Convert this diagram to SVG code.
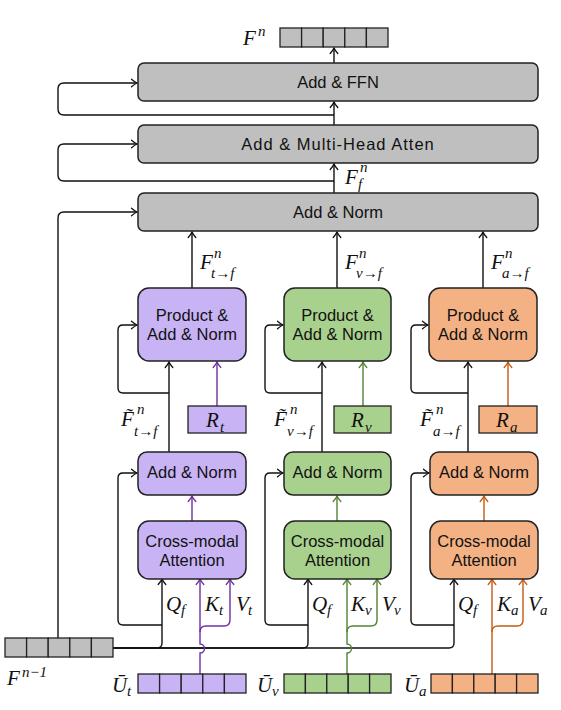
<svg xmlns="http://www.w3.org/2000/svg" width="561" height="710" viewBox="0 0 561 710">
<style>
.box{stroke:#222;stroke-width:1.5}
.gray{fill:#bfbfbf}
.pur{fill:#c8b4f5}
.grn{fill:#a9d18e}
.org{fill:#f4b183}
.t{font-family:'Liberation Sans',Arial,sans-serif;font-size:16.5px;fill:#111;text-anchor:middle}
.m{font-family:'Liberation Serif','Times New Roman',serif;font-style:italic;font-size:21px;fill:#111}
.s{font-size:15px}
.ln{fill:none;stroke:#111;stroke-width:1.4}
.lp{fill:none;stroke:#7030a0;stroke-width:1.4}
.lg{fill:none;stroke:#548235;stroke-width:1.4}
.lo{fill:none;stroke:#c55a11;stroke-width:1.4}
.cell{stroke:#222;stroke-width:1.3}
</style>
<defs>
<marker id="ak" viewBox="-7 -5 9 10" refX="0" refY="0" markerWidth="9" markerHeight="10" markerUnits="userSpaceOnUse" orient="auto"><path d="M-5.5,-3.8 Q-2,-0.8 0,0 Q-2,0.8 -5.5,3.8" fill="none" stroke="#111" stroke-width="1.3" stroke-linecap="round"/></marker>
<marker id="ap" viewBox="-7 -5 9 10" refX="0" refY="0" markerWidth="9" markerHeight="10" markerUnits="userSpaceOnUse" orient="auto"><path d="M-5.5,-3.8 Q-2,-0.8 0,0 Q-2,0.8 -5.5,3.8" fill="none" stroke="#7030a0" stroke-width="1.3" stroke-linecap="round"/></marker>
<marker id="ag" viewBox="-7 -5 9 10" refX="0" refY="0" markerWidth="9" markerHeight="10" markerUnits="userSpaceOnUse" orient="auto"><path d="M-5.5,-3.8 Q-2,-0.8 0,0 Q-2,0.8 -5.5,3.8" fill="none" stroke="#548235" stroke-width="1.3" stroke-linecap="round"/></marker>
<marker id="ao" viewBox="-7 -5 9 10" refX="0" refY="0" markerWidth="9" markerHeight="10" markerUnits="userSpaceOnUse" orient="auto"><path d="M-5.5,-3.8 Q-2,-0.8 0,0 Q-2,0.8 -5.5,3.8" fill="none" stroke="#c55a11" stroke-width="1.3" stroke-linecap="round"/></marker>
</defs>
<rect width="561" height="710" fill="#fff"/>

<g id="connectors">
<path class="ln" d="M334,63 V48" marker-end="url(#ak)"/>
<path class="ln" d="M334,125 V102" marker-end="url(#ak)"/>
<path class="ln" d="M334,193 V164" marker-end="url(#ak)"/>
<path class="ln" d="M334,115 H64 Q58,115 58,109 V89 Q58,83 64,83 H137" marker-end="url(#ak)"/>
<path class="ln" d="M334,181 H64 Q58,181 58,175 V150 Q58,144 64,144 H137" marker-end="url(#ak)"/>
<path class="ln" d="M58,638 V218 Q58,212 64,212 H137" marker-end="url(#ak)"/>
<path class="ln" d="M192,288 V232" marker-end="url(#ak)"/>
<path class="ln" d="M337,288 V232" marker-end="url(#ak)"/>
<path class="ln" d="M483,288 V232" marker-end="url(#ak)"/>
<path class="ln" d="M169,452 V362" marker-end="url(#ak)"/>
<path class="ln" d="M322,452 V362" marker-end="url(#ak)"/>
<path class="ln" d="M468,452 V362" marker-end="url(#ak)"/>
<path class="ln" d="M169,393 H123 Q118,393 118,388 V330 Q118,325 123,325 H137" marker-end="url(#ak)"/>
<path class="ln" d="M322,393 H270 Q265,393 265,388 V330 Q265,325 270,325 H283" marker-end="url(#ak)"/>
<path class="ln" d="M468,393 H416 Q411,393 411,388 V330 Q411,325 416,325 H428" marker-end="url(#ak)"/>
<path class="lp" d="M217,406 V362" marker-end="url(#ap)"/>
<path class="lg" d="M363,406 V362" marker-end="url(#ag)"/>
<path class="lo" d="M508,406 V362" marker-end="url(#ao)"/>
<path class="lp" d="M192,521 V496" marker-end="url(#ap)"/>
<path class="lg" d="M337,521 V496" marker-end="url(#ag)"/>
<path class="lo" d="M484,521 V496" marker-end="url(#ao)"/>
<path class="ln" d="M113,648 H157 Q162,648 162,643 V579" marker-end="url(#ak)"/>
<path class="ln" d="M113,648 H303 Q308,648 308,643 V579" marker-end="url(#ak)"/>
<path class="ln" d="M113,648 H449 Q454,648 454,643 V579" marker-end="url(#ak)"/>
<path class="ln" d="M162,625 H123 Q118,625 118,620 V478 Q118,473 123,473 H137" marker-end="url(#ak)"/>
<path class="ln" d="M308,625 H270 Q265,625 265,620 V478 Q265,473 270,473 H283" marker-end="url(#ak)"/>
<path class="ln" d="M454,625 H416 Q411,625 411,620 V478 Q411,473 416,473 H429" marker-end="url(#ak)"/>
<path class="lp" d="M200,674 V653 A4.5,4.5 0 0 0 200,644 V579" marker-end="url(#ap)"/>
<path class="lg" d="M347,674 V653 A4.5,4.5 0 0 0 347,644 V579" marker-end="url(#ag)"/>
<path class="lo" d="M492,674 V579" marker-end="url(#ao)"/>
<path class="lp" d="M200,632 Q200,626 206,626 H224 Q230,626 230,620 V579" marker-end="url(#ap)"/>
<path class="lg" d="M347,632 Q347,626 353,626 H371 Q377,626 377,620 V579" marker-end="url(#ag)"/>
<path class="lo" d="M492,632 Q492,626 498,626 H517 Q523,626 523,620 V579" marker-end="url(#ao)"/>
</g>

<g id="fn">
<rect class="cell gray" x="280" y="28" width="21.6" height="19"/>
<rect class="cell gray" x="301.6" y="28" width="21.6" height="19"/>
<rect class="cell gray" x="323.2" y="28" width="21.6" height="19"/>
<rect class="cell gray" x="344.8" y="28" width="21.6" height="19"/>
<rect class="cell gray" x="366.4" y="28" width="21.6" height="19"/>
<text class="m" x="243" y="45">F<tspan class="s" x="258" y="36">n</tspan></text>
</g>

<g id="add-ffn">
<rect class="box gray" x="138" y="63" width="400" height="38" rx="6"/>
<text class="t" x="338" y="88">Add &amp; FFN</text>
</g>
<g id="add-mha">
<rect class="box gray" x="138" y="125" width="400" height="38" rx="6"/>
<text class="t" x="338" y="150" letter-spacing="1">Add &amp; Multi-Head Atten</text>
</g>
<g id="add-norm">
<rect class="box gray" x="138" y="193" width="400" height="38" rx="6"/>
<text class="t" x="338" y="218">Add &amp; Norm</text>
</g>
<g id="ff-label">
<text class="m" x="345" y="184">F<tspan class="s" x="360" y="172">n</tspan><tspan class="s" x="358" y="189">f</tspan></text>
</g>

<g id="prod-t">
<rect class="box pur" x="138" y="288" width="108" height="73" rx="11"/>
<text class="t" x="192" y="321">Product &amp;</text>
<text class="t" x="192" y="340">Add &amp; Norm</text>
</g>
<g id="lbl-ft">
<text class="m" x="200" y="269">F<tspan class="s" x="214" y="258">n</tspan><tspan class="s" x="211" y="278">t→f</tspan></text>
</g>
<g id="lbl-ftt">
<text class="m" x="121" y="426">F&#x303;<tspan class="s" x="137" y="414">n</tspan><tspan class="s" x="134" y="436">t→f</tspan></text>
</g>
<g id="r-t">
<rect class="cell pur" x="188" y="406" width="58" height="27"/>
<text class="m" x="206" y="427">R<tspan class="s" x="220" y="432">t</tspan></text>
</g>
<g id="an-t">
<rect class="box pur" x="138" y="452" width="108" height="43" rx="9"/>
<text class="t" x="192" y="478">Add &amp; Norm</text>
</g>
<g id="cma-t">
<rect class="box pur" x="138" y="521" width="108" height="58" rx="11"/>
<text class="t" x="192" y="547">Cross-modal</text>
<text class="t" x="192" y="566">Attention</text>
</g>
<g id="qkv-t">
<text class="m" x="166" y="611">Q<tspan class="s" x="181" y="615">f</tspan></text>
<text class="m" x="205" y="611">K<tspan class="s" x="219" y="615">t</tspan></text>
<text class="m" x="236" y="611">V<tspan class="s" x="248" y="615">t</tspan></text>
</g>
<g id="u-t">
<rect class="cell pur" x="138" y="674" width="21.6" height="19"/>
<rect class="cell pur" x="159.6" y="674" width="21.6" height="19"/>
<rect class="cell pur" x="181.2" y="674" width="21.6" height="19"/>
<rect class="cell pur" x="202.8" y="674" width="21.6" height="19"/>
<rect class="cell pur" x="224.4" y="674" width="21.6" height="19"/>
<text class="m" x="112" y="692">U&#x304;<tspan class="s" x="127" y="696">t</tspan></text>
</g>

<g id="prod-v">
<rect class="box grn" x="284" y="288" width="107" height="73" rx="11"/>
<text class="t" x="337.5" y="321">Product &amp;</text>
<text class="t" x="337.5" y="340">Add &amp; Norm</text>
</g>
<g id="lbl-fv">
<text class="m" x="345" y="269">F<tspan class="s" x="359" y="258">n</tspan><tspan class="s" x="356" y="278">v→f</tspan></text>
</g>
<g id="lbl-ftv">
<text class="m" x="274" y="426">F&#x303;<tspan class="s" x="290" y="414">n</tspan><tspan class="s" x="287" y="436">v→f</tspan></text>
</g>
<g id="r-v">
<rect class="cell grn" x="334" y="406" width="57" height="27"/>
<text class="m" x="351" y="427">R<tspan class="s" x="365" y="432">v</tspan></text>
</g>
<g id="an-v">
<rect class="box grn" x="284" y="452" width="107" height="43" rx="9"/>
<text class="t" x="337.5" y="478">Add &amp; Norm</text>
</g>
<g id="cma-v">
<rect class="box grn" x="284" y="521" width="107" height="58" rx="11"/>
<text class="t" x="337.5" y="547">Cross-modal</text>
<text class="t" x="337.5" y="566">Attention</text>
</g>
<g id="qkv-v">
<text class="m" x="312" y="611">Q<tspan class="s" x="327" y="615">f</tspan></text>
<text class="m" x="351" y="611">K<tspan class="s" x="365" y="615">v</tspan></text>
<text class="m" x="382" y="611">V<tspan class="s" x="394" y="615">v</tspan></text>
</g>
<g id="u-v">
<rect class="cell grn" x="284" y="674" width="21.4" height="19"/>
<rect class="cell grn" x="305.4" y="674" width="21.4" height="19"/>
<rect class="cell grn" x="326.8" y="674" width="21.4" height="19"/>
<rect class="cell grn" x="348.2" y="674" width="21.4" height="19"/>
<rect class="cell grn" x="369.6" y="674" width="21.4" height="19"/>
<text class="m" x="257" y="692">U&#x304;<tspan class="s" x="272" y="696">v</tspan></text>
</g>

<g id="prod-a">
<rect class="box org" x="429" y="288" width="108" height="73" rx="11"/>
<text class="t" x="483" y="321">Product &amp;</text>
<text class="t" x="483" y="340">Add &amp; Norm</text>
</g>
<g id="lbl-fa">
<text class="m" x="491" y="269">F<tspan class="s" x="505" y="258">n</tspan><tspan class="s" x="502" y="278">a→f</tspan></text>
</g>
<g id="lbl-fta">
<text class="m" x="420" y="426">F&#x303;<tspan class="s" x="436" y="414">n</tspan><tspan class="s" x="433" y="436">a→f</tspan></text>
</g>
<g id="r-a">
<rect class="cell org" x="479" y="406" width="58" height="27"/>
<text class="m" x="496" y="427">R<tspan class="s" x="510" y="432">a</tspan></text>
</g>
<g id="an-a">
<rect class="box org" x="430" y="452" width="108" height="43" rx="9"/>
<text class="t" x="484" y="478">Add &amp; Norm</text>
</g>
<g id="cma-a">
<rect class="box org" x="430" y="521" width="108" height="58" rx="11"/>
<text class="t" x="484" y="547">Cross-modal</text>
<text class="t" x="484" y="566">Attention</text>
</g>
<g id="qkv-a">
<text class="m" x="458" y="611">Q<tspan class="s" x="473" y="615">f</tspan></text>
<text class="m" x="497" y="611">K<tspan class="s" x="511" y="615">a</tspan></text>
<text class="m" x="528" y="611">V<tspan class="s" x="540" y="615">a</tspan></text>
</g>
<g id="u-a">
<rect class="cell org" x="431" y="674" width="21.4" height="19"/>
<rect class="cell org" x="452.4" y="674" width="21.4" height="19"/>
<rect class="cell org" x="473.8" y="674" width="21.4" height="19"/>
<rect class="cell org" x="495.2" y="674" width="21.4" height="19"/>
<rect class="cell org" x="516.6" y="674" width="21.4" height="19"/>
<text class="m" x="404" y="692">U&#x304;<tspan class="s" x="419" y="696">a</tspan></text>
</g>

<g id="fn-1">
<rect class="cell gray" x="5" y="638" width="21.6" height="19"/>
<rect class="cell gray" x="26.6" y="638" width="21.6" height="19"/>
<rect class="cell gray" x="48.2" y="638" width="21.6" height="19"/>
<rect class="cell gray" x="69.8" y="638" width="21.6" height="19"/>
<rect class="cell gray" x="91.4" y="638" width="21.6" height="19"/>
<text class="m" x="7" y="685">F<tspan class="s" x="22" y="677">n−1</tspan></text>
</g>
</svg>
